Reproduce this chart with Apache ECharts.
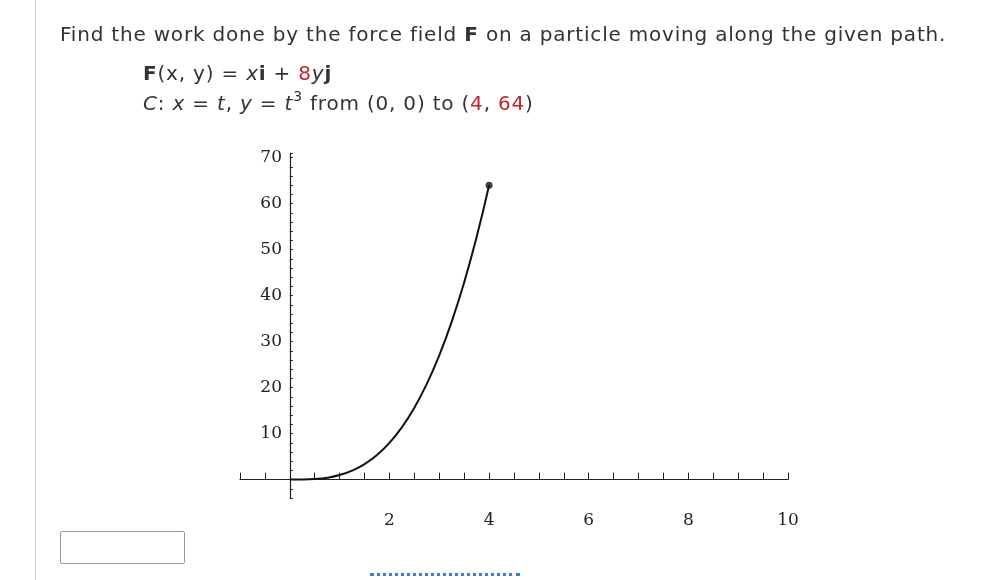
<!DOCTYPE html>
<html><head><meta charset="utf-8">
<script src="https://cdn.jsdelivr.net/npm/echarts@6/dist/echarts.min.js"></script>
<style>
body{margin:0;background:#fff;width:1004px;height:580px;overflow:hidden;font-family:"DejaVu Sans",Verdana,sans-serif;color:#333;}
.t{position:absolute;white-space:nowrap;font-size:20px;letter-spacing:0.8px;}
.r{color:#c0282b}
#c{position:absolute;left:0;top:0;width:1004px;height:580px;}
</style></head><body>
<div style="position:absolute;left:35px;top:0;width:1px;height:580px;background:#ccc"></div>
<div id="c"></div>
<div class="t" style="left:60px;top:22px">Find the work done by the force field <b>F</b> on a particle moving along the given path.</div>
<div class="t" style="left:143px;top:61px"><b>F</b>(x, y) = <i>x</i><b>i</b> + <span class="r">8</span><i>y</i><b>j</b></div>
<div class="t" style="left:143px;top:91px"><i>C</i>: <i>x</i> = <i>t</i>, <i>y</i> = <i>t</i><sup style="font-size:14px;vertical-align:9px;line-height:0">3</sup> from (0, 0) to (<span class="r">4</span>, <span class="r">64</span>)</div>
<div style="position:absolute;left:60px;top:531px;width:123px;height:31px;border:1px solid #999;border-radius:2px"></div>
<div style="position:absolute;left:370px;top:573px;width:150px;border-top:3px dotted #3b7ddd"></div>
<script>
var xValues=[0,0.25,0.5,0.75,1,1.25,1.5,1.75,2,2.25,2.5,2.75,3,3.25,3.5,3.75,4];
var yValues=[0,0.016,0.125,0.42,1,1.95,3.375,5.36,8,11.39,15.63,20.8,27,34.33,42.88,52.73,64];
var xTicks=[2,4,6,8,10];
var yTicks=[10,20,30,40,50,60,70];
var endPoint=[4,64];
var ch=echarts.init(document.getElementById('c'));
var serif='"DejaVu Serif","Liberation Serif",serif';
ch.setOption({
 animation:false,
 grid:{left:240,right:216,top:153,bottom:82},
 xAxis:{type:'value',min:-1,max:10,interval:0.5,
  axisLine:{onZero:true,lineStyle:{color:'#222',width:1.2}},
  axisTick:{show:true,inside:true,length:7,lineStyle:{color:'#222'}},
  axisLabel:{color:'#222',fontFamily:serif,fontSize:17,margin:14,showMinLabel:true,showMaxLabel:true,
   formatter:function(v){return xTicks.indexOf(Math.round(v*100)/100)>=0?String(Math.round(v)):'';}},
  splitLine:{show:false}},
 yAxis:{type:'value',min:-4,max:71,interval:2,
  axisLine:{onZero:true,lineStyle:{color:'#222',width:1.2}},
  axisTick:{show:true,inside:true,length:3,lineStyle:{color:'#222'}},
  axisLabel:{color:'#222',fontFamily:serif,fontSize:17,margin:-42,
   formatter:function(v){return yTicks.indexOf(v)>=0?String(v):'';}},
  splitLine:{show:false}},
 series:[
  {type:'line',data:xValues.map(function(x,i){return [x,yValues[i]];}),smooth:true,showSymbol:false,
   lineStyle:{color:'#111',width:2}},
  {type:'scatter',data:[endPoint],symbolSize:7,itemStyle:{color:'#111'}}
 ]
});
</script>
</body></html>
